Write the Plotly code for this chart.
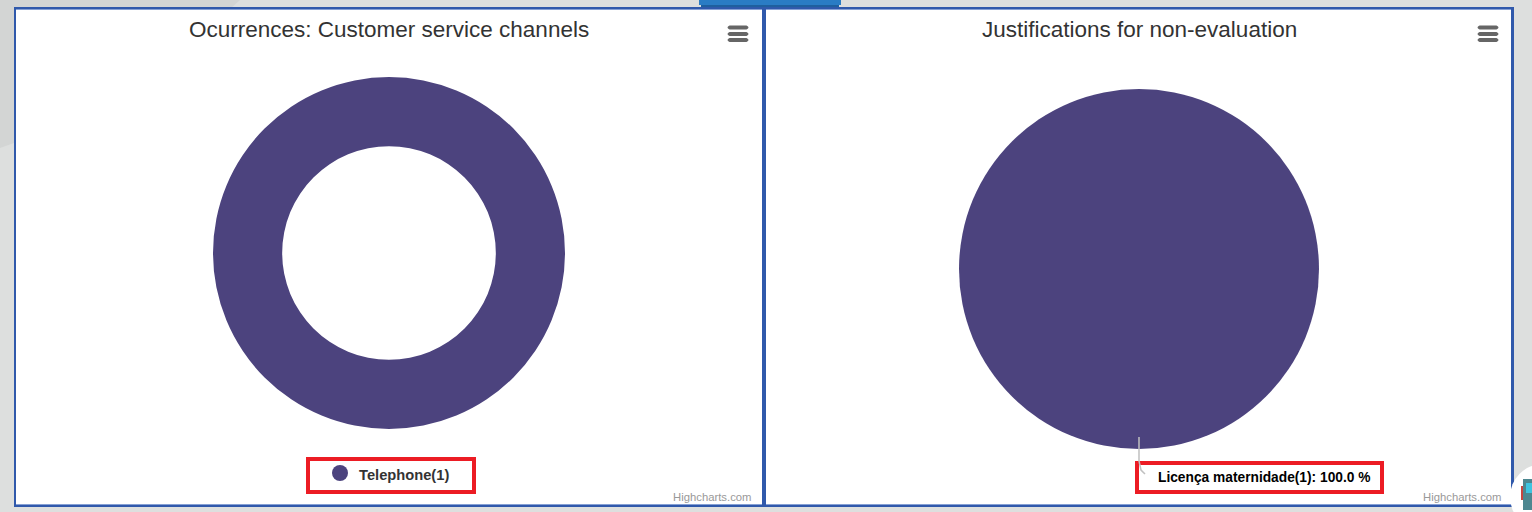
import plotly.graph_objects as go

W = 1532
H = 512

# chart data
channel_labels = ['Telephone']
channel_values = [1]
reason_labels = ['Licença maternidade']
reason_values = [1]
titles = ['Ocurrences: Customer service channels', 'Justifications for non-evaluation']
legend_text = 'Telephone(1)'
slice_text = 'Licença maternidade(1): 100.0 %'
credit_text = 'Highcharts.com'

PURPLE = '#4c437e'
BLUE = '#3059ab'
PALE = '#86a0d4'
RED = '#ec1c24'


def px(x):
    return x / W


def py(y):
    return 1 - y / H


def rect(x0, y0, x1, y1, fill, line=None, width=0, layer='below'):
    return dict(type='rect', xref='paper', yref='paper', x0=px(x0), x1=px(x1), y0=py(y0), y1=py(y1),
                fillcolor=fill, line=dict(color=line, width=width), layer=layer)


def circle(cx, cy, r, fill, layer='below'):
    return dict(type='circle', xref='paper', yref='paper', x0=px(cx - r), x1=px(cx + r), y0=py(cy + r), y1=py(cy - r),
                fillcolor=fill, line=dict(width=0), layer=layer)


def path(points, closed=False, **kw):
    d = 'M ' + ' L '.join('%.5f,%.5f' % (px(a), py(b)) for a, b in points)
    if closed:
        d += ' Z'
    return dict(type='path', xref='paper', yref='paper', path=d, **kw)


def pill(x0, x1, y0, y1):
    r = (y1 - y0) / 2
    d = 'M %.5f,%.5f L %.5f,%.5f Q %.5f,%.5f %.5f,%.5f L %.5f,%.5f Q %.5f,%.5f %.5f,%.5f Z' % (
        px(x0 + r), py(y0), px(x1 - r), py(y0), px(x1 + r), py((y0 + y1) / 2), px(x1 - r), py(y1),
        px(x0 + r), py(y1), px(x0 - r), py((y0 + y1) / 2), px(x0 + r), py(y0))
    return dict(type='path', xref='paper', yref='paper', path=d, fillcolor='#666666', line=dict(width=0), layer='above')


def text(x, y, s, size, color, bold=False):
    return dict(xref='paper', yref='paper', x=px(x), y=py(y), text='<b>%s</b>' % s if bold else s, showarrow=False,
                xanchor='center', yanchor='middle', font=dict(size=size, color=color, family='Liberation Sans'))


fig = go.Figure()
fig.add_trace(go.Pie(labels=channel_labels, values=channel_values, hole=0.607, sort=False, textinfo='none',
                     marker=dict(colors=[PURPLE]), showlegend=False,
                     domain=dict(x=[px(213), px(565)], y=[py(429), py(77)])))
fig.add_trace(go.Pie(labels=reason_labels, values=reason_values, sort=False, textinfo='none',
                     marker=dict(colors=[PURPLE]), showlegend=False,
                     domain=dict(x=[px(959), px(1319)], y=[py(449), py(89)])))

shapes = [
    # page background
    path([(0, 0), (240, 0), (231, 8), (14, 143), (0, 148)], closed=True, fillcolor='#d3d5d4',
         line=dict(width=0), layer='below'),
    rect(699, 0, 841, 5, '#2a7cc4'),
    rect(701, 5, 839, 7, '#1f5f9e'),
    # panels
    rect(14, 7, 1514, 507, BLUE),
    rect(16, 10, 762, 505, 'white'),
    rect(766, 10, 1511, 505, 'white'),
    rect(16, 9, 762, 10, PALE),
    rect(766, 9, 1511, 10, PALE),
    rect(16, 504, 762, 505, PALE),
    rect(766, 504, 1511, 505, PALE),
    # bottom right widget
    circle(1543, 497, 33, 'white'),
    rect(1521, 486, 1524, 500, '#c9453f'),
    rect(1523, 479, 1532, 510, '#4d8790'),
    rect(1526, 483, 1532, 493, '#3fc4e0'),
    # red boxes
    rect(308, 459, 474, 492, 'rgba(0,0,0,0)', RED, 4, 'above'),
    rect(1137, 463, 1382, 492, 'rgba(0,0,0,0)', RED, 4, 'above'),
    # legend marker
    circle(340, 473, 8, PURPLE, 'above'),
    # slice connector
    path([(1139, 437), (1139, 461), (1141, 470), (1145, 474)], line=dict(color='#c0c0c0', width=1.5), layer='above'),
]
for x0 in (727, 1477):
    shapes += [pill(x0 + 0.5, x0 + 21.5, 25.5, 29.5), pill(x0 + 0.5, x0 + 21.5, 32, 36), pill(x0 + 0.5, x0 + 21.5, 38, 42)]

annotations = [
    text(389, 29.5, titles[0], 22.5, '#333333'),
    text(1139, 29.5, titles[1], 22.5, '#333333'),
    text(403.5, 475, legend_text, 14.7, '#333333', True),
    text(1264, 477, slice_text, 13.75, '#000000', True),
    text(712, 497, credit_text, 11.3, '#999999'),
    text(1462, 497, credit_text, 11.3, '#999999'),
]

fig.update_layout(width=W, height=H, margin=dict(l=0, r=0, t=0, b=0), paper_bgcolor='#dddfde',
                  plot_bgcolor='rgba(0,0,0,0)', shapes=shapes, annotations=annotations,
                  font=dict(family='Liberation Sans'))
fig.write_html('out.html', config={'displayModeBar': False},
               post_script="document.body.style.margin='0';document.body.style.overflow='hidden';")
